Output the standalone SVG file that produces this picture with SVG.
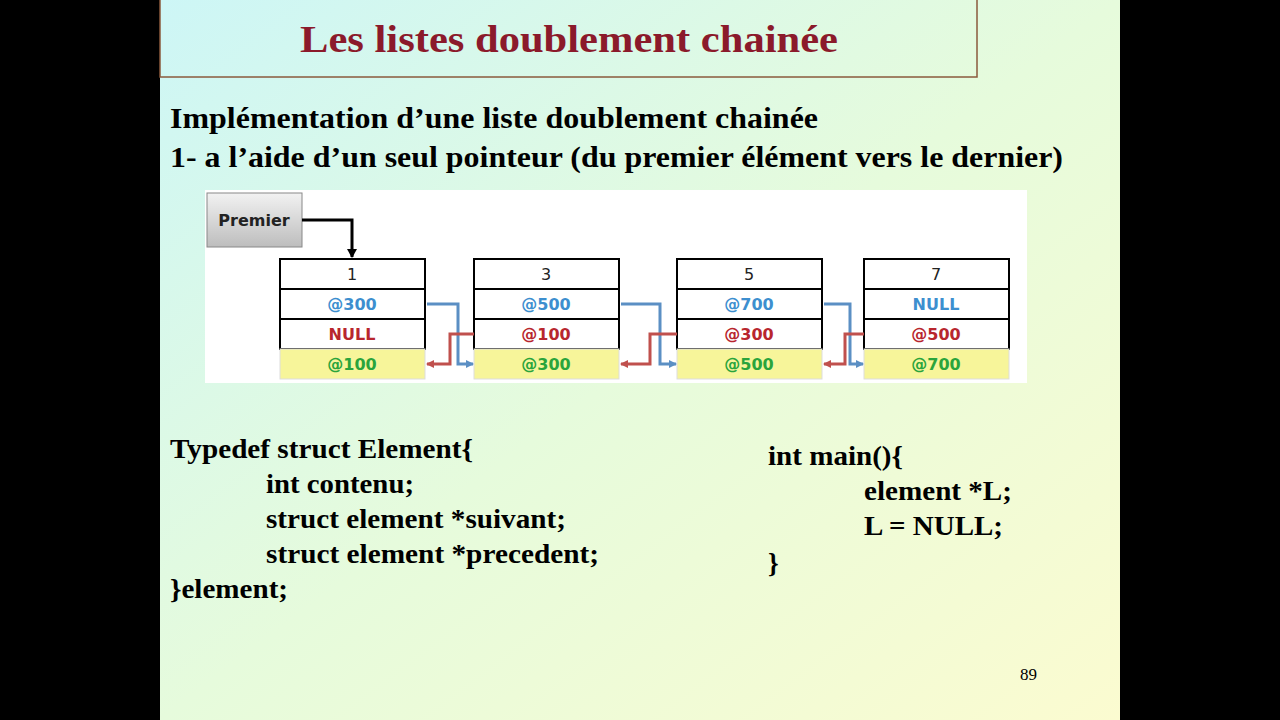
<svg xmlns="http://www.w3.org/2000/svg" width="1280" height="720" viewBox="0 0 1280 720">
<defs>
<linearGradient id="bg" x1="0" y1="0" x2="1" y2="1"><stop offset="0" stop-color="#cdf6f6"/><stop offset="0.5" stop-color="#e6fbdc"/><stop offset="1" stop-color="#fbfbd0"/></linearGradient>
<linearGradient id="gr" x1="0" y1="0" x2="0" y2="1"><stop offset="0" stop-color="#f2f2f2"/><stop offset="1" stop-color="#bdbdbd"/></linearGradient>
<marker id="ab" markerWidth="10" markerHeight="10" refX="8" refY="5" orient="auto" markerUnits="userSpaceOnUse"><path d="M0,0 L9,5 L0,10 Z" fill="#000"/></marker>
<marker id="bl" markerWidth="8" markerHeight="8" refX="7" refY="4" orient="auto" markerUnits="userSpaceOnUse"><path d="M0,0 L8,4 L0,8 Z" fill="#5b8fc4"/></marker>
<marker id="rd" markerWidth="8" markerHeight="8" refX="7" refY="4" orient="auto" markerUnits="userSpaceOnUse"><path d="M0,0 L8,4 L0,8 Z" fill="#c0504d"/></marker>
</defs>
<style>
.h{font-family:"Liberation Serif",serif;font-weight:bold;font-size:29px;fill:#000}
.c{font-family:"Liberation Serif",serif;font-weight:bold;font-size:27px;fill:#000}
.t{font-family:"DejaVu Sans",sans-serif;font-weight:bold;font-size:16px;text-anchor:middle}
.cell{fill:#fff;stroke:#000;stroke-width:2}
.y{fill:#f7f59a;stroke:#ddd;stroke-width:1}
.b{fill:#3d8fcf}.r{fill:#b8262e}.g{fill:#2aa43c}.k{fill:#222;font-weight:normal}
.lb{fill:none;stroke:#5b8fc4;stroke-width:3}
.lr{fill:none;stroke:#c0504d;stroke-width:3}
</style>
<rect width="1280" height="720" fill="#000"/>
<rect x="160" y="0" width="960" height="720" fill="url(#bg)"/>
<rect x="160" y="-2" width="817" height="79" fill="none" stroke="#8a5a3c" stroke-width="1.5"/>
<text x="300" y="52" textLength="538" lengthAdjust="spacingAndGlyphs" font-family="Liberation Serif,serif" font-weight="bold" font-size="38" fill="#8b1a2b">Les listes doublement chainée</text>
<text class="h" x="170" y="128" textLength="648" lengthAdjust="spacingAndGlyphs">Implémentation d’une liste doublement chainée</text>
<text class="h" x="170" y="167" textLength="893" lengthAdjust="spacingAndGlyphs">1- a l’aide d’un seul pointeur (du premier élément vers le dernier)</text>
<rect x="205" y="190" width="822" height="193" fill="#fff"/>
<g id="premier"><rect x="207" y="193" width="95" height="54" fill="url(#gr)" stroke="#888"/><text class="t" x="254" y="226" fill="#222">Premier</text></g>
<g id="n1"><rect class="cell" x="280" y="259" width="145" height="30"/><rect class="cell" x="280" y="289" width="145" height="30"/><rect class="cell" x="280" y="319" width="145" height="30"/><rect class="y" x="280" y="349" width="145" height="30"/>
<text class="t k" x="352" y="280">1</text><text class="t b" x="352" y="310">@300</text><text class="t r" x="352" y="340">NULL</text><text class="t g" x="352" y="370">@100</text></g>
<g id="n3"><rect class="cell" x="474" y="259" width="145" height="30"/><rect class="cell" x="474" y="289" width="145" height="30"/><rect class="cell" x="474" y="319" width="145" height="30"/><rect class="y" x="474" y="349" width="145" height="30"/>
<text class="t k" x="546" y="280">3</text><text class="t b" x="546" y="310">@500</text><text class="t r" x="546" y="340">@100</text><text class="t g" x="546" y="370">@300</text></g>
<g id="n5"><rect class="cell" x="677" y="259" width="145" height="30"/><rect class="cell" x="677" y="289" width="145" height="30"/><rect class="cell" x="677" y="319" width="145" height="30"/><rect class="y" x="677" y="349" width="145" height="30"/>
<text class="t k" x="749" y="280">5</text><text class="t b" x="749" y="310">@700</text><text class="t r" x="749" y="340">@300</text><text class="t g" x="749" y="370">@500</text></g>
<g id="n7"><rect class="cell" x="864" y="259" width="145" height="30"/><rect class="cell" x="864" y="289" width="145" height="30"/><rect class="cell" x="864" y="319" width="145" height="30"/><rect class="y" x="864" y="349" width="145" height="30"/>
<text class="t k" x="936" y="280">7</text><text class="t b" x="936" y="310">NULL</text><text class="t r" x="936" y="340">@500</text><text class="t g" x="936" y="370">@700</text></g>
<g id="connectors">
<path d="M302,220 H352 V257" fill="none" stroke="#000" stroke-width="3" marker-end="url(#ab)"/>
<path class="lb" d="M427,304 H458 V364 H473" marker-end="url(#bl)"/>
<path class="lr" d="M474,334 H450 V364 H427" marker-end="url(#rd)"/>
<path class="lb" d="M621,304 H660 V364 H676" marker-end="url(#bl)"/>
<path class="lr" d="M677,334 H650 V364 H621" marker-end="url(#rd)"/>
<path class="lb" d="M824,304 H850 V364 H863" marker-end="url(#bl)"/>
<path class="lr" d="M864,334 H845 V364 H824" marker-end="url(#rd)"/>
</g>
<text class="c" x="170" y="458" textLength="303" lengthAdjust="spacingAndGlyphs">Typedef struct Element{</text>
<text class="c" x="266" y="493" textLength="148" lengthAdjust="spacingAndGlyphs">int contenu;</text>
<text class="c" x="266" y="528" textLength="300" lengthAdjust="spacingAndGlyphs">struct element *suivant;</text>
<text class="c" x="266" y="563" textLength="333" lengthAdjust="spacingAndGlyphs">struct element *precedent;</text>
<text class="c" x="170" y="598" textLength="118" lengthAdjust="spacingAndGlyphs">}element;</text>
<text class="c" x="768" y="465" textLength="135" lengthAdjust="spacingAndGlyphs">int main(){</text>
<text class="c" x="864" y="500" textLength="148" lengthAdjust="spacingAndGlyphs">element *L;</text>
<text class="c" x="864" y="535" textLength="139" lengthAdjust="spacingAndGlyphs">L = NULL;</text>
<text class="c" x="768" y="572">}</text>
<text x="1020" y="680" font-family="Liberation Serif,serif" font-size="17" fill="#000">89</text>
</svg>
